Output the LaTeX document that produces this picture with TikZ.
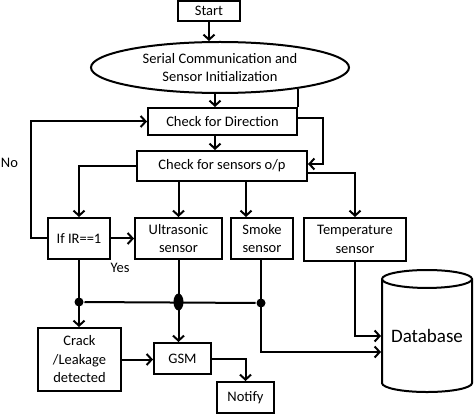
\documentclass[tikz,border=0pt]{standalone}
\usepackage{fontspec}
\setmainfont{Carlito}
\usepackage{tikz}
\usetikzlibrary{arrows.meta,positioning,calc,shapes.geometric}

\begin{document}
\begin{tikzpicture}[x=1pt,y=-1pt,line width=2pt,
  font=\fontsize{14.5}{18.5}\selectfont,
  box/.style={draw,rectangle,inner sep=1pt,align=center},
  arr/.style={-{Straight Barb[length=5pt,width=11pt]}},
  dot/.style={fill,circle,inner sep=0pt,minimum size=9pt}]
\useasboundingbox (0,0) rectangle (474,414);
% boxes
\node[box,minimum width=62,minimum height=20] (start) at (209,11) {Start};
\node[draw,ellipse,inner sep=0pt,minimum width=258,minimum height=51,align=center] (init) at (220,67.5) {Serial Communication and\\Sensor Initialization};
\node[box,minimum width=149,minimum height=27] (dir) at (222.5,121.5) {Check for Direction};
\node[box,minimum width=170,minimum height=30] (sens) at (222,166) {Check for sensors o/p};
\node[box,minimum width=62,minimum height=41] (ir) at (79,238.5) {If IR==1};
\node[box,minimum width=87,minimum height=41] (ultra) at (178.5,238.5) {Ultrasonic\\sensor};
\node[box,minimum width=62,minimum height=41] (smoke) at (262,238.5) {Smoke\\sensor};
\node[box,minimum width=102,minimum height=43] (temp) at (355,239.5) {Temperature\\sensor};
\node[box,minimum width=83,minimum height=63] (crack) at (79.5,359.5) {Crack\\/Leakage\\detected};
\node[box,minimum width=57,minimum height=31] (gsm) at (182.5,358.5) {GSM};
\node[box,minimum width=57,minimum height=31] (notify) at (245.5,397.5) {Notify};
\node[draw,cylinder,shape border rotate=90,aspect=0.25,minimum height=122,minimum width=90,inner sep=0pt,font=\fontsize{19}{20}\selectfont] (db) at (427,336) {Database};
% labels
\node[anchor=west,inner sep=0pt] (no) at (0,163) {No};
\node[inner sep=0pt] (yes) at (120,268) {Yes};
% junctions
\node[dot] (j1) at (ir.south |- 0,302) {};
\node[fill,ellipse,inner sep=0pt,minimum width=10pt,minimum height=17pt] (j2) at (ultra.south |- 0,302) {};
\node[dot] (j3) at (261,303) {};
% arrows
\draw[arr] (start) -- (start |- init.north);
\draw[arr] ([xshift=-5pt]init.south) -- ([xshift=-5pt]init.south |- dir.north);
\draw (dir.north east) -- (dir.north east |- init.-15);
\draw[arr] (ir.west) -- ++(-16,0) |- (dir.west);
\draw[arr] ([yshift=3pt]dir.east) -- ++(25,0) |- ([yshift=2pt]sens.east);
\draw[arr] ([xshift=-7.5pt]dir.south) -- ([xshift=-7.5pt]dir.south |- sens.north);
\draw[arr] (sens.west) -| (ir.north);
\draw[arr] (ultra.north |- sens.south) -- (ultra.north);
\draw[arr] ([xshift=-16pt]smoke.north |- sens.south) -- ([xshift=-16pt]smoke.north);
\draw[arr] ([yshift=-7pt]sens.east) -| (temp.north);
\draw[arr] (ir.east) -- (ultra.west);
\draw[arr] (ir.south) -- (ir.south |- crack.north);
\draw (j1) -- (j3);
\draw[arr] (ultra.south) -- (ultra.south |- gsm.north);
\draw[arr] (smoke.south -| j3) |- ([yshift=-16pt]db.west);
\draw[arr] (temp.south) |- (db.west);
\draw[arr] (crack.east) -- (crack.east -| gsm.west);
\draw[arr] (gsm.east) -| (notify.north);
\end{tikzpicture}
\end{document}
